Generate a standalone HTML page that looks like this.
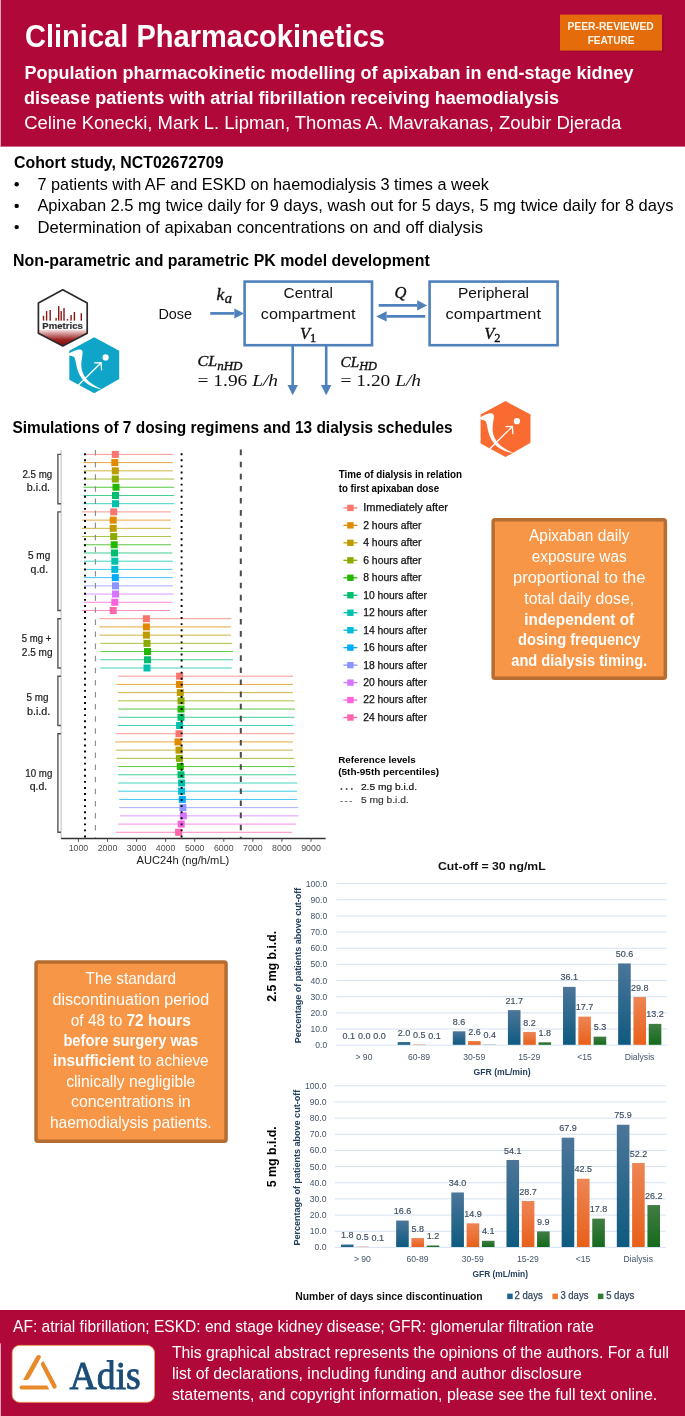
<!DOCTYPE html>
<html lang="en"><head><meta charset="utf-8"><title>Clinical Pharmacokinetics - graphical abstract</title>
<style>
html,body{margin:0;padding:0;background:#fff;}
body{width:685px;height:1416px;overflow:hidden;}
svg{display:block;font-family:"Liberation Sans",Arial,sans-serif;}
</style></head><body>
<svg width="685" height="1416" viewBox="0 0 685 1416">
<rect x="0.00" y="0.00" width="685.00" height="146.60" fill="#B1083A"/>
<rect x="0.00" y="0.00" width="1.00" height="146.60" fill="#E6A6B8"/>
<text x="25.00" y="46.70" font-size="31.8" fill="#fff" font-weight="bold" textLength="360.00" lengthAdjust="spacingAndGlyphs">Clinical Pharmacokinetics</text>
<rect x="561.50" y="16.00" width="102.00" height="36.00" fill="#7a0a25" opacity="0.35"/>
<rect x="560.00" y="14.60" width="102.00" height="36.00" fill="#E46C0A"/>
<text x="610.60" y="29.50" font-size="10.3" fill="#FFF5EA" font-weight="bold" text-anchor="middle" textLength="86.20" lengthAdjust="spacingAndGlyphs">PEER-REVIEWED</text>
<text x="611.10" y="43.50" font-size="10.3" fill="#FFF5EA" font-weight="bold" text-anchor="middle" textLength="46.90" lengthAdjust="spacingAndGlyphs">FEATURE</text>
<text x="24.50" y="79.30" font-size="19.2" fill="#fff" font-weight="bold" textLength="609.00" lengthAdjust="spacingAndGlyphs">Population pharmacokinetic modelling of apixaban in end-stage kidney</text>
<text x="24.00" y="103.80" font-size="19.2" fill="#fff" font-weight="bold" textLength="535.00" lengthAdjust="spacingAndGlyphs">disease patients with atrial fibrillation receiving haemodialysis</text>
<text x="24.20" y="128.60" font-size="18.9" fill="#fff" textLength="597.00" lengthAdjust="spacingAndGlyphs">Celine Konecki, Mark L. Lipman, Thomas A. Mavrakanas, Zoubir Djerada</text>
<text x="14.00" y="167.80" font-size="16.9" fill="#000" font-weight="bold" textLength="209.50" lengthAdjust="spacingAndGlyphs">Cohort study, NCT02672709</text>
<circle cx="16.7" cy="184.30" r="2.2" fill="#000"/>
<text x="37.40" y="189.70" font-size="16.6" fill="#000" textLength="451.50" lengthAdjust="spacingAndGlyphs">7 patients with AF and ESKD on haemodialysis 3 times a week</text>
<circle cx="16.7" cy="205.90" r="2.2" fill="#000"/>
<text x="37.40" y="211.30" font-size="16.6" fill="#000" textLength="636.00" lengthAdjust="spacingAndGlyphs">Apixaban 2.5 mg twice daily for 9 days, wash out for 5 days, 5 mg twice daily for 8 days</text>
<circle cx="16.7" cy="227.10" r="2.2" fill="#000"/>
<text x="37.40" y="232.50" font-size="16.6" fill="#000" textLength="445.60" lengthAdjust="spacingAndGlyphs">Determination of apixaban concentrations on and off dialysis</text>
<text x="13.00" y="265.50" font-size="16.8" fill="#000" font-weight="bold" textLength="416.70" lengthAdjust="spacingAndGlyphs">Non-parametric and parametric PK model development</text>
<rect x="244.6" y="281.6" width="127.4" height="63.6" fill="none" stroke="#4F81BD" stroke-width="2.6"/>
<rect x="429.6" y="281.6" width="128" height="63.6" fill="none" stroke="#4F81BD" stroke-width="2.6"/>
<line x1="210.20" y1="313.40" x2="234.40" y2="313.40" stroke="#4F81BD" stroke-width="2.7"/>
<polygon points="234.40,308.40 244.00,313.40 234.40,318.40" fill="#4F81BD"/>
<line x1="378.70" y1="305.40" x2="417.20" y2="305.40" stroke="#4F81BD" stroke-width="2.7"/>
<polygon points="417.20,300.30 427.20,305.40 417.20,310.50" fill="#4F81BD"/>
<line x1="425.20" y1="316.40" x2="386.60" y2="316.40" stroke="#4F81BD" stroke-width="2.7"/>
<polygon points="386.60,311.30 376.20,316.40 386.60,321.50" fill="#4F81BD"/>
<line x1="292.70" y1="345.50" x2="292.70" y2="385.10" stroke="#4F81BD" stroke-width="2.6"/>
<polygon points="287.50,385.10 292.70,395.20 297.90,385.10" fill="#4F81BD"/>
<line x1="326.20" y1="345.50" x2="326.20" y2="385.10" stroke="#4F81BD" stroke-width="2.6"/>
<polygon points="321.00,385.10 326.20,395.20 331.40,385.10" fill="#4F81BD"/>
<text x="158.40" y="318.60" font-size="15.5" fill="#111" textLength="33.60" lengthAdjust="spacingAndGlyphs">Dose</text>
<text x="308.30" y="297.80" font-size="15.5" fill="#111" text-anchor="middle" textLength="49.40" lengthAdjust="spacingAndGlyphs">Central</text>
<text x="308.20" y="318.70" font-size="15.5" fill="#111" text-anchor="middle" textLength="94.70" lengthAdjust="spacingAndGlyphs">compartment</text>
<text x="493.50" y="298.10" font-size="15.5" fill="#111" text-anchor="middle" textLength="71.10" lengthAdjust="spacingAndGlyphs">Peripheral</text>
<text x="493.30" y="318.50" font-size="15.5" fill="#111" text-anchor="middle" textLength="95.40" lengthAdjust="spacingAndGlyphs">compartment</text>
<text x="216.4" y="300" font-family="&quot;Liberation Serif&quot;, &quot;Times New Roman&quot;, serif" font-style="italic" font-size="17.5" fill="#111" stroke="#111" stroke-width="0.35">k<tspan font-size="14.5" dy="3.2" dx="0.6">a</tspan></text>
<text x="394.6" y="297.8" font-family="&quot;Liberation Serif&quot;, &quot;Times New Roman&quot;, serif" font-style="italic" font-size="16.5" fill="#111" stroke="#111" stroke-width="0.35">Q</text>
<text x="300" y="338.8" font-family="&quot;Liberation Serif&quot;, &quot;Times New Roman&quot;, serif" font-style="italic" font-size="16.5" fill="#111" stroke="#111" stroke-width="0.35">V<tspan font-style="normal" font-size="12.5" dy="3">1</tspan></text>
<text x="484.2" y="339" font-family="&quot;Liberation Serif&quot;, &quot;Times New Roman&quot;, serif" font-style="italic" font-size="16.5" fill="#111" stroke="#111" stroke-width="0.35">V<tspan font-style="normal" font-size="12.5" dy="3">2</tspan></text>
<text x="197.5" y="366.4" font-family="&quot;Liberation Serif&quot;, &quot;Times New Roman&quot;, serif" font-style="italic" font-size="15.6" fill="#111" stroke="#111" stroke-width="0.35" textLength="45" lengthAdjust="spacingAndGlyphs">CL<tspan font-size="12.6" dy="3.3">nHD</tspan></text>
<text x="197.5" y="385.8" font-family="&quot;Liberation Serif&quot;, &quot;Times New Roman&quot;, serif" font-size="16.2" fill="#111" textLength="80.6" lengthAdjust="spacingAndGlyphs">= 1.96 <tspan font-style="italic">L/h</tspan></text>
<text x="340.5" y="366.6" font-family="&quot;Liberation Serif&quot;, &quot;Times New Roman&quot;, serif" font-style="italic" font-size="15.6" fill="#111" stroke="#111" stroke-width="0.35" textLength="36.4" lengthAdjust="spacingAndGlyphs">CL<tspan font-size="12.6" dy="3.3">HD</tspan></text>
<text x="340.5" y="386.2" font-family="&quot;Liberation Serif&quot;, &quot;Times New Roman&quot;, serif" font-size="16.2" fill="#111" textLength="80.6" lengthAdjust="spacingAndGlyphs">= 1.20 <tspan font-style="italic">L/h</tspan></text>
<defs>
<linearGradient id="pmg" x1="0" y1="0" x2="0" y2="1">
<stop offset="0" stop-color="#f7e6e6"/><stop offset="0.25" stop-color="#cf8a8a"/><stop offset="0.55" stop-color="#a02424"/><stop offset="1" stop-color="#780404"/>
</linearGradient>
<linearGradient id="bb" x1="0" y1="0" x2="0" y2="1"><stop offset="0" stop-color="#4C7699"/><stop offset="1" stop-color="#0E5A80"/></linearGradient>
<linearGradient id="bo" x1="0" y1="0" x2="0" y2="1"><stop offset="0" stop-color="#EE8555"/><stop offset="1" stop-color="#E8601A"/></linearGradient>
<linearGradient id="bg" x1="0" y1="0" x2="0" y2="1"><stop offset="0" stop-color="#427D44"/><stop offset="1" stop-color="#146A1C"/></linearGradient>
<clipPath id="pmclip"><polygon points="62.8,289.8 87.2,303 87.2,333.2 62.8,346 38.4,333.2 38.4,303"/></clipPath>
</defs>
<polygon points="62.8,289.8 87.2,303 87.2,333.2 62.8,346 38.4,333.2 38.4,303" fill="#fff"/>
<rect x="36" y="329.6" width="54" height="18" fill="url(#pmg)" clip-path="url(#pmclip)"/>
<rect x="42.80" y="315.80" width="1.40" height="4.80" fill="#8a1414"/>
<rect x="45.90" y="311.10" width="1.40" height="9.50" fill="#8a1414"/>
<rect x="49.50" y="310.00" width="1.40" height="10.60" fill="#8a1414"/>
<rect x="55.40" y="317.90" width="1.40" height="2.70" fill="#8a1414"/>
<rect x="58.00" y="306.10" width="1.40" height="14.50" fill="#8a1414"/>
<rect x="60.50" y="311.10" width="1.40" height="9.50" fill="#8a1414"/>
<rect x="63.30" y="308.10" width="1.40" height="12.50" fill="#8a1414"/>
<rect x="66.80" y="319.10" width="1.40" height="1.50" fill="#8a1414"/>
<rect x="70.40" y="315.00" width="1.40" height="5.60" fill="#8a1414"/>
<rect x="73.70" y="312.00" width="1.40" height="8.60" fill="#8a1414"/>
<rect x="80.60" y="313.20" width="1.40" height="7.40" fill="#8a1414"/>
<text x="62.60" y="328.60" font-size="9.2" fill="#333" font-weight="bold" text-anchor="middle" textLength="40.60" lengthAdjust="spacingAndGlyphs" stroke="#333" stroke-width="0.2">Pmetrics</text>
<polygon points="62.8,289.8 87.2,303 87.2,333.2 62.8,346 38.4,333.2 38.4,303" fill="none" stroke="#2a2a2a" stroke-width="1.7" stroke-linejoin="round"/>
<g transform="translate(64.00,332.00)"><polygon points="30.2,5.3 55.2,18.8 55.2,47 30.2,61.3 5.3,47.7 5.3,18.8" fill="#0EA5C9"/><path d="M4.9,21.6 C8.5,19.2 13,17.4 16.2,17.5 C17.8,17.6 18.8,19 18.6,21.5 C18.3,25 17.2,29 17.3,33.5 C17.5,40 20.5,45.5 25.5,50 C29,53 33.5,55.2 37.9,57.2 C33.5,56.8 28,55 23.5,52 C18.5,48.6 15,43 13.3,37 C12.2,33 11.6,28.5 10.8,26.2 C10.3,24.6 7.5,23.8 4.9,23.6 Z" fill="#fff"/><line x1="14.5" y1="53" x2="36.6" y2="31.2" stroke="#fff" stroke-width="1.3"/><polyline points="30.2,30.8 37.1,30.6 37.6,38.4" fill="none" stroke="#fff" stroke-width="1.3"/><circle cx="41.6" cy="25.4" r="3.1" fill="#fff"/></g>
<g transform="translate(475.30,395.80)"><polygon points="30.2,5.3 55.2,18.8 55.2,47 30.2,61.3 5.3,47.7 5.3,18.8" fill="#F96B31"/><path d="M4.9,21.6 C8.5,19.2 13,17.4 16.2,17.5 C17.8,17.6 18.8,19 18.6,21.5 C18.3,25 17.2,29 17.3,33.5 C17.5,40 20.5,45.5 25.5,50 C29,53 33.5,55.2 37.9,57.2 C33.5,56.8 28,55 23.5,52 C18.5,48.6 15,43 13.3,37 C12.2,33 11.6,28.5 10.8,26.2 C10.3,24.6 7.5,23.8 4.9,23.6 Z" fill="#fff"/><line x1="14.5" y1="53" x2="36.6" y2="31.2" stroke="#fff" stroke-width="1.3"/><polyline points="30.2,30.8 37.1,30.6 37.6,38.4" fill="none" stroke="#fff" stroke-width="1.3"/><circle cx="41.6" cy="25.4" r="3.1" fill="#fff"/></g>
<text x="12.40" y="433.00" font-size="16.9" fill="#000" font-weight="bold" textLength="440.30" lengthAdjust="spacingAndGlyphs">Simulations of 7 dosing regimens and 13 dialysis schedules</text>
<line x1="61.10" y1="450.00" x2="61.10" y2="838.50" stroke="#BDBDBD" stroke-width="1"/>
<line x1="85.60" y1="454.40" x2="172.80" y2="454.40" stroke="#F8766D" stroke-width="1.0" opacity="0.75"/>
<line x1="83.50" y1="462.61" x2="172.80" y2="462.61" stroke="#E18A00" stroke-width="1.0" opacity="0.75"/>
<line x1="83.50" y1="470.83" x2="172.80" y2="470.83" stroke="#BE9C00" stroke-width="1.0" opacity="0.75"/>
<line x1="83.50" y1="479.04" x2="174.00" y2="479.04" stroke="#8CAB00" stroke-width="1.0" opacity="0.75"/>
<line x1="83.50" y1="487.26" x2="174.00" y2="487.26" stroke="#24B700" stroke-width="1.0" opacity="0.75"/>
<line x1="83.50" y1="495.47" x2="174.00" y2="495.47" stroke="#00BE70" stroke-width="1.0" opacity="0.75"/>
<line x1="83.50" y1="503.69" x2="174.00" y2="503.69" stroke="#00C1AB" stroke-width="1.0" opacity="0.75"/>
<line x1="82.00" y1="511.90" x2="171.00" y2="511.90" stroke="#F8766D" stroke-width="1.0" opacity="0.75"/>
<line x1="82.00" y1="520.12" x2="171.00" y2="520.12" stroke="#E18A00" stroke-width="1.0" opacity="0.75"/>
<line x1="82.00" y1="528.34" x2="171.00" y2="528.34" stroke="#BE9C00" stroke-width="1.0" opacity="0.75"/>
<line x1="82.00" y1="536.55" x2="171.00" y2="536.55" stroke="#8CAB00" stroke-width="1.0" opacity="0.75"/>
<line x1="83.50" y1="544.76" x2="171.00" y2="544.76" stroke="#24B700" stroke-width="1.0" opacity="0.75"/>
<line x1="84.00" y1="552.98" x2="172.30" y2="552.98" stroke="#00BE70" stroke-width="1.0" opacity="0.75"/>
<line x1="84.00" y1="561.19" x2="172.80" y2="561.19" stroke="#00C1AB" stroke-width="1.0" opacity="0.75"/>
<line x1="85.50" y1="569.41" x2="172.30" y2="569.41" stroke="#00BBDA" stroke-width="1.0" opacity="0.75"/>
<line x1="84.00" y1="577.62" x2="172.80" y2="577.62" stroke="#00ACFC" stroke-width="1.0" opacity="0.75"/>
<line x1="84.00" y1="585.84" x2="172.80" y2="585.84" stroke="#8B93FF" stroke-width="1.0" opacity="0.75"/>
<line x1="84.00" y1="594.05" x2="173.80" y2="594.05" stroke="#D575FE" stroke-width="1.0" opacity="0.75"/>
<line x1="84.00" y1="602.27" x2="172.30" y2="602.27" stroke="#F962DD" stroke-width="1.0" opacity="0.75"/>
<line x1="82.00" y1="610.49" x2="170.00" y2="610.49" stroke="#FF65AC" stroke-width="1.0" opacity="0.75"/>
<line x1="99.40" y1="618.70" x2="231.40" y2="618.70" stroke="#F8766D" stroke-width="1.0" opacity="0.75"/>
<line x1="99.40" y1="626.91" x2="231.00" y2="626.91" stroke="#E18A00" stroke-width="1.0" opacity="0.75"/>
<line x1="99.40" y1="635.13" x2="231.00" y2="635.13" stroke="#BE9C00" stroke-width="1.0" opacity="0.75"/>
<line x1="100.30" y1="643.35" x2="232.00" y2="643.35" stroke="#8CAB00" stroke-width="1.0" opacity="0.75"/>
<line x1="100.40" y1="651.56" x2="233.00" y2="651.56" stroke="#24B700" stroke-width="1.0" opacity="0.75"/>
<line x1="100.40" y1="659.77" x2="233.00" y2="659.77" stroke="#00BE70" stroke-width="1.0" opacity="0.75"/>
<line x1="100.40" y1="667.99" x2="231.80" y2="667.99" stroke="#00C1AB" stroke-width="1.0" opacity="0.75"/>
<line x1="118.10" y1="676.20" x2="292.90" y2="676.20" stroke="#F8766D" stroke-width="1.0" opacity="0.75"/>
<line x1="116.60" y1="684.42" x2="292.90" y2="684.42" stroke="#E18A00" stroke-width="1.0" opacity="0.75"/>
<line x1="118.00" y1="692.63" x2="292.90" y2="692.63" stroke="#BE9C00" stroke-width="1.0" opacity="0.75"/>
<line x1="118.00" y1="700.85" x2="294.60" y2="700.85" stroke="#8CAB00" stroke-width="1.0" opacity="0.75"/>
<line x1="118.10" y1="709.06" x2="294.90" y2="709.06" stroke="#24B700" stroke-width="1.0" opacity="0.75"/>
<line x1="118.00" y1="717.28" x2="294.60" y2="717.28" stroke="#00BE70" stroke-width="1.0" opacity="0.75"/>
<line x1="118.00" y1="725.49" x2="292.90" y2="725.49" stroke="#00C1AB" stroke-width="1.0" opacity="0.75"/>
<line x1="115.90" y1="733.71" x2="294.50" y2="733.71" stroke="#F8766D" stroke-width="1.0" opacity="0.75"/>
<line x1="115.30" y1="741.92" x2="292.80" y2="741.92" stroke="#E18A00" stroke-width="1.0" opacity="0.75"/>
<line x1="116.00" y1="750.14" x2="292.80" y2="750.14" stroke="#BE9C00" stroke-width="1.0" opacity="0.75"/>
<line x1="116.60" y1="758.36" x2="294.50" y2="758.36" stroke="#8CAB00" stroke-width="1.0" opacity="0.75"/>
<line x1="118.00" y1="766.57" x2="295.00" y2="766.57" stroke="#24B700" stroke-width="1.0" opacity="0.75"/>
<line x1="118.00" y1="774.78" x2="296.00" y2="774.78" stroke="#00BE70" stroke-width="1.0" opacity="0.75"/>
<line x1="118.00" y1="783.00" x2="297.20" y2="783.00" stroke="#00C1AB" stroke-width="1.0" opacity="0.75"/>
<line x1="118.00" y1="791.21" x2="297.00" y2="791.21" stroke="#00BBDA" stroke-width="1.0" opacity="0.75"/>
<line x1="119.20" y1="799.43" x2="297.20" y2="799.43" stroke="#00ACFC" stroke-width="1.0" opacity="0.75"/>
<line x1="119.20" y1="807.64" x2="298.30" y2="807.64" stroke="#8B93FF" stroke-width="1.0" opacity="0.75"/>
<line x1="120.00" y1="815.86" x2="298.30" y2="815.86" stroke="#D575FE" stroke-width="1.0" opacity="0.75"/>
<line x1="118.00" y1="824.08" x2="296.00" y2="824.08" stroke="#F962DD" stroke-width="1.0" opacity="0.75"/>
<line x1="116.00" y1="832.29" x2="292.00" y2="832.29" stroke="#FF65AC" stroke-width="1.0" opacity="0.75"/>
<rect x="111.80" y="450.90" width="7.00" height="7.00" fill="#F8766D"/>
<rect x="111.30" y="459.11" width="7.00" height="7.00" fill="#E18A00"/>
<rect x="111.80" y="467.33" width="7.00" height="7.00" fill="#BE9C00"/>
<rect x="111.80" y="475.54" width="7.00" height="7.00" fill="#8CAB00"/>
<rect x="112.50" y="483.76" width="7.00" height="7.00" fill="#24B700"/>
<rect x="112.00" y="491.97" width="7.00" height="7.00" fill="#00BE70"/>
<rect x="112.00" y="500.19" width="7.00" height="7.00" fill="#00C1AB"/>
<rect x="110.20" y="508.40" width="7.00" height="7.00" fill="#F8766D"/>
<rect x="109.70" y="516.62" width="7.00" height="7.00" fill="#E18A00"/>
<rect x="109.70" y="524.84" width="7.00" height="7.00" fill="#BE9C00"/>
<rect x="110.20" y="533.05" width="7.00" height="7.00" fill="#8CAB00"/>
<rect x="110.70" y="541.26" width="7.00" height="7.00" fill="#24B700"/>
<rect x="111.00" y="549.48" width="7.00" height="7.00" fill="#00BE70"/>
<rect x="111.30" y="557.69" width="7.00" height="7.00" fill="#00C1AB"/>
<rect x="111.30" y="565.91" width="7.00" height="7.00" fill="#00BBDA"/>
<rect x="111.80" y="574.12" width="7.00" height="7.00" fill="#00ACFC"/>
<rect x="112.00" y="582.34" width="7.00" height="7.00" fill="#8B93FF"/>
<rect x="112.00" y="590.55" width="7.00" height="7.00" fill="#D575FE"/>
<rect x="111.30" y="598.77" width="7.00" height="7.00" fill="#F962DD"/>
<rect x="109.70" y="606.99" width="7.00" height="7.00" fill="#FF65AC"/>
<rect x="142.90" y="615.20" width="7.00" height="7.00" fill="#F8766D"/>
<rect x="142.90" y="623.41" width="7.00" height="7.00" fill="#E18A00"/>
<rect x="142.90" y="631.63" width="7.00" height="7.00" fill="#BE9C00"/>
<rect x="143.50" y="639.85" width="7.00" height="7.00" fill="#8CAB00"/>
<rect x="144.00" y="648.06" width="7.00" height="7.00" fill="#24B700"/>
<rect x="144.00" y="656.27" width="7.00" height="7.00" fill="#00BE70"/>
<rect x="143.50" y="664.49" width="7.00" height="7.00" fill="#00C1AB"/>
<rect x="176.10" y="672.70" width="7.00" height="7.00" fill="#F8766D"/>
<rect x="175.90" y="680.92" width="7.00" height="7.00" fill="#E18A00"/>
<rect x="176.80" y="689.13" width="7.00" height="7.00" fill="#BE9C00"/>
<rect x="177.50" y="697.35" width="7.00" height="7.00" fill="#8CAB00"/>
<rect x="177.50" y="705.56" width="7.00" height="7.00" fill="#24B700"/>
<rect x="177.50" y="713.78" width="7.00" height="7.00" fill="#00BE70"/>
<rect x="176.10" y="721.99" width="7.00" height="7.00" fill="#00C1AB"/>
<rect x="175.50" y="730.21" width="7.00" height="7.00" fill="#F8766D"/>
<rect x="174.50" y="738.42" width="7.00" height="7.00" fill="#E18A00"/>
<rect x="175.50" y="746.64" width="7.00" height="7.00" fill="#BE9C00"/>
<rect x="175.90" y="754.86" width="7.00" height="7.00" fill="#8CAB00"/>
<rect x="176.80" y="763.07" width="7.00" height="7.00" fill="#24B700"/>
<rect x="177.50" y="771.28" width="7.00" height="7.00" fill="#00BE70"/>
<rect x="178.10" y="779.50" width="7.00" height="7.00" fill="#00C1AB"/>
<rect x="178.10" y="787.71" width="7.00" height="7.00" fill="#00BBDA"/>
<rect x="178.80" y="795.93" width="7.00" height="7.00" fill="#00ACFC"/>
<rect x="179.40" y="804.14" width="7.00" height="7.00" fill="#8B93FF"/>
<rect x="179.80" y="812.36" width="7.00" height="7.00" fill="#D575FE"/>
<rect x="177.70" y="820.58" width="7.00" height="7.00" fill="#F962DD"/>
<rect x="175.10" y="828.79" width="7.00" height="7.00" fill="#FF65AC"/>
<line x1="85.00" y1="453.30" x2="85.00" y2="838.00" stroke="#000" stroke-width="1.9" stroke-dasharray="1.9 4.167"/>
<line x1="181.60" y1="453.30" x2="181.60" y2="838.00" stroke="#000" stroke-width="1.9" stroke-dasharray="1.9 4.167"/>
<line x1="95.40" y1="450.00" x2="95.40" y2="838.00" stroke="#8a8a8a" stroke-width="1.1" stroke-dasharray="5.5 6.6"/>
<line x1="240.80" y1="449.60" x2="240.80" y2="838.00" stroke="#4a4a4a" stroke-width="2.0" stroke-dasharray="5.6 6.5"/>
<line x1="61.10" y1="838.50" x2="325.60" y2="838.50" stroke="#333" stroke-width="1.4"/>
<line x1="78.43" y1="838.50" x2="78.43" y2="841.80" stroke="#555" stroke-width="1"/>
<text x="78.43" y="850.70" font-size="9.2" fill="#4D4D4D" text-anchor="middle" textLength="19.60" lengthAdjust="spacingAndGlyphs">1000</text>
<line x1="107.50" y1="838.50" x2="107.50" y2="841.80" stroke="#555" stroke-width="1"/>
<text x="107.50" y="850.70" font-size="9.2" fill="#4D4D4D" text-anchor="middle" textLength="19.60" lengthAdjust="spacingAndGlyphs">2000</text>
<line x1="136.57" y1="838.50" x2="136.57" y2="841.80" stroke="#555" stroke-width="1"/>
<text x="136.57" y="850.70" font-size="9.2" fill="#4D4D4D" text-anchor="middle" textLength="19.60" lengthAdjust="spacingAndGlyphs">3000</text>
<line x1="165.64" y1="838.50" x2="165.64" y2="841.80" stroke="#555" stroke-width="1"/>
<text x="165.64" y="850.70" font-size="9.2" fill="#4D4D4D" text-anchor="middle" textLength="19.60" lengthAdjust="spacingAndGlyphs">4000</text>
<line x1="194.71" y1="838.50" x2="194.71" y2="841.80" stroke="#555" stroke-width="1"/>
<text x="194.71" y="850.70" font-size="9.2" fill="#4D4D4D" text-anchor="middle" textLength="19.60" lengthAdjust="spacingAndGlyphs">5000</text>
<line x1="223.78" y1="838.50" x2="223.78" y2="841.80" stroke="#555" stroke-width="1"/>
<text x="223.78" y="850.70" font-size="9.2" fill="#4D4D4D" text-anchor="middle" textLength="19.60" lengthAdjust="spacingAndGlyphs">6000</text>
<line x1="252.85" y1="838.50" x2="252.85" y2="841.80" stroke="#555" stroke-width="1"/>
<text x="252.85" y="850.70" font-size="9.2" fill="#4D4D4D" text-anchor="middle" textLength="19.60" lengthAdjust="spacingAndGlyphs">7000</text>
<line x1="281.92" y1="838.50" x2="281.92" y2="841.80" stroke="#555" stroke-width="1"/>
<text x="281.92" y="850.70" font-size="9.2" fill="#4D4D4D" text-anchor="middle" textLength="19.60" lengthAdjust="spacingAndGlyphs">8000</text>
<line x1="310.99" y1="838.50" x2="310.99" y2="841.80" stroke="#555" stroke-width="1"/>
<text x="310.99" y="850.70" font-size="9.2" fill="#4D4D4D" text-anchor="middle" textLength="19.60" lengthAdjust="spacingAndGlyphs">9000</text>
<text x="136.50" y="864.20" font-size="10.6" fill="#1a1a1a" textLength="92.80" lengthAdjust="spacingAndGlyphs">AUC24h (ng/h/mL)</text>
<polyline points="61,454.40 57.9,454.40 57.9,503.69 61,503.69" fill="none" stroke="#555" stroke-width="1.4"/>
<polyline points="61,511.90 57.9,511.90 57.9,610.49 61,610.49" fill="none" stroke="#555" stroke-width="1.4"/>
<polyline points="61,618.70 57.9,618.70 57.9,667.99 61,667.99" fill="none" stroke="#555" stroke-width="1.4"/>
<polyline points="61,676.20 57.9,676.20 57.9,725.49 61,725.49" fill="none" stroke="#555" stroke-width="1.4"/>
<polyline points="61,733.71 57.9,733.71 57.9,832.29 61,832.29" fill="none" stroke="#555" stroke-width="1.4"/>
<text x="22.40" y="477.70" font-size="10.1" fill="#1a1a1a" textLength="29.90" lengthAdjust="spacingAndGlyphs" stroke="#1a1a1a" stroke-width="0.2">2.5 mg</text>
<text x="26.80" y="491.40" font-size="10.1" fill="#1a1a1a" textLength="23.30" lengthAdjust="spacingAndGlyphs" stroke="#1a1a1a" stroke-width="0.2">b.i.d.</text>
<text x="28.00" y="558.70" font-size="10.1" fill="#1a1a1a" textLength="22.30" lengthAdjust="spacingAndGlyphs" stroke="#1a1a1a" stroke-width="0.2">5 mg</text>
<text x="30.60" y="572.50" font-size="10.1" fill="#1a1a1a" textLength="17.50" lengthAdjust="spacingAndGlyphs" stroke="#1a1a1a" stroke-width="0.2">q.d.</text>
<text x="21.80" y="641.50" font-size="10.1" fill="#1a1a1a" textLength="29.40" lengthAdjust="spacingAndGlyphs" stroke="#1a1a1a" stroke-width="0.2">5 mg +</text>
<text x="21.80" y="655.50" font-size="10.1" fill="#1a1a1a" textLength="30.70" lengthAdjust="spacingAndGlyphs" stroke="#1a1a1a" stroke-width="0.2">2.5 mg</text>
<text x="26.60" y="700.60" font-size="10.1" fill="#1a1a1a" textLength="21.90" lengthAdjust="spacingAndGlyphs" stroke="#1a1a1a" stroke-width="0.2">5 mg</text>
<text x="27.00" y="714.60" font-size="10.1" fill="#1a1a1a" textLength="23.30" lengthAdjust="spacingAndGlyphs" stroke="#1a1a1a" stroke-width="0.2">b.i.d.</text>
<text x="25.30" y="776.50" font-size="10.1" fill="#1a1a1a" textLength="27.00" lengthAdjust="spacingAndGlyphs" stroke="#1a1a1a" stroke-width="0.2">10 mg</text>
<text x="29.70" y="790.40" font-size="10.1" fill="#1a1a1a" textLength="17.50" lengthAdjust="spacingAndGlyphs" stroke="#1a1a1a" stroke-width="0.2">q.d.</text>
<text x="338.70" y="478.20" font-size="10.5" fill="#000" font-weight="bold" textLength="123.30" lengthAdjust="spacingAndGlyphs">Time of dialysis in relation</text>
<text x="338.70" y="491.50" font-size="10.5" fill="#000" font-weight="bold" textLength="100.40" lengthAdjust="spacingAndGlyphs">to first apixaban dose</text>
<line x1="343.40" y1="507.90" x2="357.40" y2="507.90" stroke="#F8766D" stroke-width="1.3"/>
<rect x="347.20" y="504.70" width="6.40" height="6.40" fill="#F8766D"/>
<text x="363.20" y="511.30" font-size="10.1" fill="#111" textLength="84.80" lengthAdjust="spacingAndGlyphs" stroke="#111" stroke-width="0.25">Immediately after</text>
<line x1="343.40" y1="525.37" x2="357.40" y2="525.37" stroke="#E18A00" stroke-width="1.3"/>
<rect x="347.20" y="522.17" width="6.40" height="6.40" fill="#E18A00"/>
<text x="363.20" y="528.77" font-size="10.1" fill="#111" textLength="58.40" lengthAdjust="spacingAndGlyphs" stroke="#111" stroke-width="0.25">2 hours after</text>
<line x1="343.40" y1="542.84" x2="357.40" y2="542.84" stroke="#BE9C00" stroke-width="1.3"/>
<rect x="347.20" y="539.64" width="6.40" height="6.40" fill="#BE9C00"/>
<text x="363.20" y="546.24" font-size="10.1" fill="#111" textLength="58.40" lengthAdjust="spacingAndGlyphs" stroke="#111" stroke-width="0.25">4 hours after</text>
<line x1="343.40" y1="560.31" x2="357.40" y2="560.31" stroke="#8CAB00" stroke-width="1.3"/>
<rect x="347.20" y="557.11" width="6.40" height="6.40" fill="#8CAB00"/>
<text x="363.20" y="563.71" font-size="10.1" fill="#111" textLength="58.40" lengthAdjust="spacingAndGlyphs" stroke="#111" stroke-width="0.25">6 hours after</text>
<line x1="343.40" y1="577.78" x2="357.40" y2="577.78" stroke="#24B700" stroke-width="1.3"/>
<rect x="347.20" y="574.58" width="6.40" height="6.40" fill="#24B700"/>
<text x="363.20" y="581.18" font-size="10.1" fill="#111" textLength="58.40" lengthAdjust="spacingAndGlyphs" stroke="#111" stroke-width="0.25">8 hours after</text>
<line x1="343.40" y1="595.25" x2="357.40" y2="595.25" stroke="#00BE70" stroke-width="1.3"/>
<rect x="347.20" y="592.05" width="6.40" height="6.40" fill="#00BE70"/>
<text x="363.20" y="598.65" font-size="10.1" fill="#111" textLength="63.80" lengthAdjust="spacingAndGlyphs" stroke="#111" stroke-width="0.25">10 hours after</text>
<line x1="343.40" y1="612.72" x2="357.40" y2="612.72" stroke="#00C1AB" stroke-width="1.3"/>
<rect x="347.20" y="609.52" width="6.40" height="6.40" fill="#00C1AB"/>
<text x="363.20" y="616.12" font-size="10.1" fill="#111" textLength="63.80" lengthAdjust="spacingAndGlyphs" stroke="#111" stroke-width="0.25">12 hours after</text>
<line x1="343.40" y1="630.19" x2="357.40" y2="630.19" stroke="#00BBDA" stroke-width="1.3"/>
<rect x="347.20" y="626.99" width="6.40" height="6.40" fill="#00BBDA"/>
<text x="363.20" y="633.59" font-size="10.1" fill="#111" textLength="63.80" lengthAdjust="spacingAndGlyphs" stroke="#111" stroke-width="0.25">14 hours after</text>
<line x1="343.40" y1="647.66" x2="357.40" y2="647.66" stroke="#00ACFC" stroke-width="1.3"/>
<rect x="347.20" y="644.46" width="6.40" height="6.40" fill="#00ACFC"/>
<text x="363.20" y="651.06" font-size="10.1" fill="#111" textLength="63.80" lengthAdjust="spacingAndGlyphs" stroke="#111" stroke-width="0.25">16 hours after</text>
<line x1="343.40" y1="665.13" x2="357.40" y2="665.13" stroke="#8B93FF" stroke-width="1.3"/>
<rect x="347.20" y="661.93" width="6.40" height="6.40" fill="#8B93FF"/>
<text x="363.20" y="668.53" font-size="10.1" fill="#111" textLength="63.80" lengthAdjust="spacingAndGlyphs" stroke="#111" stroke-width="0.25">18 hours after</text>
<line x1="343.40" y1="682.60" x2="357.40" y2="682.60" stroke="#D575FE" stroke-width="1.3"/>
<rect x="347.20" y="679.40" width="6.40" height="6.40" fill="#D575FE"/>
<text x="363.20" y="686.00" font-size="10.1" fill="#111" textLength="63.80" lengthAdjust="spacingAndGlyphs" stroke="#111" stroke-width="0.25">20 hours after</text>
<line x1="343.40" y1="700.07" x2="357.40" y2="700.07" stroke="#F962DD" stroke-width="1.3"/>
<rect x="347.20" y="696.87" width="6.40" height="6.40" fill="#F962DD"/>
<text x="363.20" y="703.47" font-size="10.1" fill="#111" textLength="63.80" lengthAdjust="spacingAndGlyphs" stroke="#111" stroke-width="0.25">22 hours after</text>
<line x1="343.40" y1="717.54" x2="357.40" y2="717.54" stroke="#FF65AC" stroke-width="1.3"/>
<rect x="347.20" y="714.34" width="6.40" height="6.40" fill="#FF65AC"/>
<text x="363.20" y="720.94" font-size="10.1" fill="#111" textLength="63.80" lengthAdjust="spacingAndGlyphs" stroke="#111" stroke-width="0.25">24 hours after</text>
<text x="338.20" y="763.40" font-size="9.4" fill="#000" font-weight="bold" textLength="77.60" lengthAdjust="spacingAndGlyphs">Reference levels</text>
<text x="338.20" y="774.60" font-size="9.4" fill="#000" font-weight="bold" textLength="100.90" lengthAdjust="spacingAndGlyphs">(5th-95th percentiles)</text>
<rect x="340.60" y="788.20" width="1.60" height="1.60" fill="#333"/>
<rect x="345.80" y="788.20" width="1.60" height="1.60" fill="#333"/>
<rect x="351.00" y="788.20" width="1.60" height="1.60" fill="#333"/>
<rect x="340.20" y="801.00" width="2.60" height="1.00" fill="#777"/>
<rect x="344.80" y="801.00" width="2.60" height="1.00" fill="#777"/>
<rect x="349.40" y="801.00" width="2.60" height="1.00" fill="#777"/>
<text x="360.90" y="789.80" font-size="9.8" fill="#111" textLength="56.10" lengthAdjust="spacingAndGlyphs" stroke="#111" stroke-width="0.2">2.5 mg b.i.d.</text>
<text x="360.90" y="803.10" font-size="9.8" fill="#333" textLength="47.90" lengthAdjust="spacingAndGlyphs" stroke="#333" stroke-width="0.15">5 mg b.i.d.</text>
<rect x="493.15" y="519.85" width="172.2" height="158.5" rx="1.8" fill="#F79646" stroke="#B66D31" stroke-width="3.5"/>
<text x="579.20" y="541.40" font-size="15.6" fill="#fff" text-anchor="middle" textLength="100.30" lengthAdjust="spacingAndGlyphs">Apixaban daily</text>
<text x="579.20" y="562.40" font-size="15.6" fill="#fff" text-anchor="middle" textLength="94.90" lengthAdjust="spacingAndGlyphs">exposure was</text>
<text x="579.20" y="583.30" font-size="15.6" fill="#fff" text-anchor="middle" textLength="132.30" lengthAdjust="spacingAndGlyphs">proportional to the</text>
<text x="579.20" y="603.70" font-size="15.6" fill="#fff" text-anchor="middle" textLength="109.80" lengthAdjust="spacingAndGlyphs">total daily dose,</text>
<text x="579.20" y="624.60" font-size="15.9" fill="#fff" font-weight="bold" text-anchor="middle" textLength="109.80" lengthAdjust="spacingAndGlyphs">independent of</text>
<text x="579.20" y="644.70" font-size="15.9" fill="#fff" font-weight="bold" text-anchor="middle" textLength="122.40" lengthAdjust="spacingAndGlyphs">dosing frequency</text>
<text x="579.20" y="665.60" font-size="15.9" fill="#fff" font-weight="bold" text-anchor="middle" textLength="135.90" lengthAdjust="spacingAndGlyphs">and dialysis timing.</text>
<text x="438.00" y="869.80" font-size="11.8" fill="#111" font-weight="bold" textLength="107.70" lengthAdjust="spacingAndGlyphs">Cut-off = 30 ng/mL</text>
<line x1="336.40" y1="1045.20" x2="667.10" y2="1045.20" stroke="#D6E2F2" stroke-width="1"/>
<text x="327.20" y="1048.20" font-size="8.6" fill="#44546A" text-anchor="end">0.0</text>
<line x1="336.40" y1="1029.04" x2="667.10" y2="1029.04" stroke="#D6E2F2" stroke-width="1"/>
<text x="327.20" y="1032.04" font-size="8.6" fill="#44546A" text-anchor="end">10.0</text>
<line x1="336.40" y1="1012.88" x2="667.10" y2="1012.88" stroke="#D6E2F2" stroke-width="1"/>
<text x="327.20" y="1015.88" font-size="8.6" fill="#44546A" text-anchor="end">20.0</text>
<line x1="336.40" y1="996.72" x2="667.10" y2="996.72" stroke="#D6E2F2" stroke-width="1"/>
<text x="327.20" y="999.72" font-size="8.6" fill="#44546A" text-anchor="end">30.0</text>
<line x1="336.40" y1="980.56" x2="667.10" y2="980.56" stroke="#D6E2F2" stroke-width="1"/>
<text x="327.20" y="983.56" font-size="8.6" fill="#44546A" text-anchor="end">40.0</text>
<line x1="336.40" y1="964.40" x2="667.10" y2="964.40" stroke="#D6E2F2" stroke-width="1"/>
<text x="327.20" y="967.40" font-size="8.6" fill="#44546A" text-anchor="end">50.0</text>
<line x1="336.40" y1="948.24" x2="667.10" y2="948.24" stroke="#D6E2F2" stroke-width="1"/>
<text x="327.20" y="951.24" font-size="8.6" fill="#44546A" text-anchor="end">60.0</text>
<line x1="336.40" y1="932.08" x2="667.10" y2="932.08" stroke="#D6E2F2" stroke-width="1"/>
<text x="327.20" y="935.08" font-size="8.6" fill="#44546A" text-anchor="end">70.0</text>
<line x1="336.40" y1="915.92" x2="667.10" y2="915.92" stroke="#D6E2F2" stroke-width="1"/>
<text x="327.20" y="918.92" font-size="8.6" fill="#44546A" text-anchor="end">80.0</text>
<line x1="336.40" y1="899.76" x2="667.10" y2="899.76" stroke="#D6E2F2" stroke-width="1"/>
<text x="327.20" y="902.76" font-size="8.6" fill="#44546A" text-anchor="end">90.0</text>
<line x1="336.40" y1="883.60" x2="667.10" y2="883.60" stroke="#D6E2F2" stroke-width="1"/>
<text x="327.20" y="886.60" font-size="8.6" fill="#44546A" text-anchor="end">100.0</text>
<text x="363.96" y="1059.70" font-size="8.6" fill="#44546A" text-anchor="middle">&gt; 90</text>
<rect x="342.56" y="1045.04" width="12.60" height="-0.24" fill="url(#bb)"/>
<text x="348.86" y="1038.64" font-size="9.0" fill="#3E4D61" text-anchor="middle" stroke="#3E4D61" stroke-width="0.15">0.1</text>
<text x="364.16" y="1038.80" font-size="9.0" fill="#3E4D61" text-anchor="middle" stroke="#3E4D61" stroke-width="0.15">0.0</text>
<text x="379.46" y="1038.80" font-size="9.0" fill="#3E4D61" text-anchor="middle" stroke="#3E4D61" stroke-width="0.15">0.0</text>
<text x="419.07" y="1059.70" font-size="8.6" fill="#44546A" text-anchor="middle">60-89</text>
<rect x="397.68" y="1041.97" width="12.60" height="2.83" fill="url(#bb)"/>
<text x="403.98" y="1035.57" font-size="9.0" fill="#3E4D61" text-anchor="middle" stroke="#3E4D61" stroke-width="0.15">2.0</text>
<rect x="412.98" y="1044.39" width="12.60" height="0.41" fill="url(#bo)"/>
<text x="419.28" y="1037.99" font-size="9.0" fill="#3E4D61" text-anchor="middle" stroke="#3E4D61" stroke-width="0.15">0.5</text>
<rect x="428.28" y="1045.04" width="12.60" height="-0.24" fill="url(#bg)"/>
<text x="434.58" y="1038.64" font-size="9.0" fill="#3E4D61" text-anchor="middle" stroke="#3E4D61" stroke-width="0.15">0.1</text>
<text x="474.19" y="1059.70" font-size="8.6" fill="#44546A" text-anchor="middle">30-59</text>
<rect x="452.79" y="1031.30" width="12.60" height="13.50" fill="url(#bb)"/>
<text x="459.09" y="1024.90" font-size="9.0" fill="#3E4D61" text-anchor="middle" stroke="#3E4D61" stroke-width="0.15">8.6</text>
<rect x="468.09" y="1041.00" width="12.60" height="3.80" fill="url(#bo)"/>
<text x="474.39" y="1034.60" font-size="9.0" fill="#3E4D61" text-anchor="middle" stroke="#3E4D61" stroke-width="0.15">2.6</text>
<rect x="483.39" y="1044.55" width="12.60" height="0.25" fill="url(#bg)"/>
<text x="489.69" y="1038.15" font-size="9.0" fill="#3E4D61" text-anchor="middle" stroke="#3E4D61" stroke-width="0.15">0.4</text>
<text x="529.31" y="1059.70" font-size="8.6" fill="#44546A" text-anchor="middle">15-29</text>
<rect x="507.91" y="1010.13" width="12.60" height="34.67" fill="url(#bb)"/>
<text x="514.21" y="1003.73" font-size="9.0" fill="#3E4D61" text-anchor="middle" stroke="#3E4D61" stroke-width="0.15">21.7</text>
<rect x="523.21" y="1031.95" width="12.60" height="12.85" fill="url(#bo)"/>
<text x="529.51" y="1025.55" font-size="9.0" fill="#3E4D61" text-anchor="middle" stroke="#3E4D61" stroke-width="0.15">8.2</text>
<rect x="538.51" y="1042.29" width="12.60" height="2.51" fill="url(#bg)"/>
<text x="544.81" y="1035.89" font-size="9.0" fill="#3E4D61" text-anchor="middle" stroke="#3E4D61" stroke-width="0.15">1.8</text>
<text x="584.42" y="1059.70" font-size="8.6" fill="#44546A" text-anchor="middle">&lt;15</text>
<rect x="563.02" y="986.86" width="12.60" height="57.94" fill="url(#bb)"/>
<text x="569.32" y="980.46" font-size="9.0" fill="#3E4D61" text-anchor="middle" stroke="#3E4D61" stroke-width="0.15">36.1</text>
<rect x="578.32" y="1016.60" width="12.60" height="28.20" fill="url(#bo)"/>
<text x="584.62" y="1010.20" font-size="9.0" fill="#3E4D61" text-anchor="middle" stroke="#3E4D61" stroke-width="0.15">17.7</text>
<rect x="593.62" y="1036.64" width="12.60" height="8.16" fill="url(#bg)"/>
<text x="599.92" y="1030.24" font-size="9.0" fill="#3E4D61" text-anchor="middle" stroke="#3E4D61" stroke-width="0.15">5.3</text>
<text x="639.54" y="1059.70" font-size="8.6" fill="#44546A" text-anchor="middle">Dialysis</text>
<rect x="618.14" y="963.43" width="12.60" height="81.37" fill="url(#bb)"/>
<text x="624.44" y="957.03" font-size="9.0" fill="#3E4D61" text-anchor="middle" stroke="#3E4D61" stroke-width="0.15">50.6</text>
<rect x="633.44" y="997.04" width="12.60" height="47.76" fill="url(#bo)"/>
<text x="639.74" y="990.64" font-size="9.0" fill="#3E4D61" text-anchor="middle" stroke="#3E4D61" stroke-width="0.15">29.8</text>
<rect x="648.74" y="1023.87" width="12.60" height="20.93" fill="url(#bg)"/>
<text x="655.04" y="1017.47" font-size="9.0" fill="#3E4D61" text-anchor="middle" stroke="#3E4D61" stroke-width="0.15">13.2</text>
<text x="473.50" y="1074.60" font-size="8.8" fill="#25405F" font-weight="bold" textLength="57.10" lengthAdjust="spacingAndGlyphs">GFR (mL/min)</text>
<text x="0" y="0" transform="translate(300.6,965.50) rotate(-90)" font-size="8.8" font-weight="bold" fill="#25405F" text-anchor="middle" textLength="155.7" lengthAdjust="spacingAndGlyphs">Percentage of patients above cut-off</text>
<line x1="334.80" y1="1247.40" x2="665.80" y2="1247.40" stroke="#D6E2F2" stroke-width="1"/>
<text x="326.50" y="1250.40" font-size="8.6" fill="#44546A" text-anchor="end">0.0</text>
<line x1="334.80" y1="1231.24" x2="665.80" y2="1231.24" stroke="#D6E2F2" stroke-width="1"/>
<text x="326.50" y="1234.24" font-size="8.6" fill="#44546A" text-anchor="end">10.0</text>
<line x1="334.80" y1="1215.08" x2="665.80" y2="1215.08" stroke="#D6E2F2" stroke-width="1"/>
<text x="326.50" y="1218.08" font-size="8.6" fill="#44546A" text-anchor="end">20.0</text>
<line x1="334.80" y1="1198.92" x2="665.80" y2="1198.92" stroke="#D6E2F2" stroke-width="1"/>
<text x="326.50" y="1201.92" font-size="8.6" fill="#44546A" text-anchor="end">30.0</text>
<line x1="334.80" y1="1182.76" x2="665.80" y2="1182.76" stroke="#D6E2F2" stroke-width="1"/>
<text x="326.50" y="1185.76" font-size="8.6" fill="#44546A" text-anchor="end">40.0</text>
<line x1="334.80" y1="1166.60" x2="665.80" y2="1166.60" stroke="#D6E2F2" stroke-width="1"/>
<text x="326.50" y="1169.60" font-size="8.6" fill="#44546A" text-anchor="end">50.0</text>
<line x1="334.80" y1="1150.44" x2="665.80" y2="1150.44" stroke="#D6E2F2" stroke-width="1"/>
<text x="326.50" y="1153.44" font-size="8.6" fill="#44546A" text-anchor="end">60.0</text>
<line x1="334.80" y1="1134.28" x2="665.80" y2="1134.28" stroke="#D6E2F2" stroke-width="1"/>
<text x="326.50" y="1137.28" font-size="8.6" fill="#44546A" text-anchor="end">70.0</text>
<line x1="334.80" y1="1118.12" x2="665.80" y2="1118.12" stroke="#D6E2F2" stroke-width="1"/>
<text x="326.50" y="1121.12" font-size="8.6" fill="#44546A" text-anchor="end">80.0</text>
<line x1="334.80" y1="1101.96" x2="665.80" y2="1101.96" stroke="#D6E2F2" stroke-width="1"/>
<text x="326.50" y="1104.96" font-size="8.6" fill="#44546A" text-anchor="end">90.0</text>
<line x1="334.80" y1="1085.80" x2="665.80" y2="1085.80" stroke="#D6E2F2" stroke-width="1"/>
<text x="326.50" y="1088.80" font-size="8.6" fill="#44546A" text-anchor="end">100.0</text>
<text x="362.38" y="1261.90" font-size="8.6" fill="#44546A" text-anchor="middle">&gt; 90</text>
<rect x="340.98" y="1244.49" width="12.60" height="2.51" fill="url(#bb)"/>
<text x="347.28" y="1238.09" font-size="9.0" fill="#3E4D61" text-anchor="middle" stroke="#3E4D61" stroke-width="0.15">1.8</text>
<rect x="356.28" y="1246.59" width="12.60" height="0.41" fill="url(#bo)"/>
<text x="362.58" y="1240.19" font-size="9.0" fill="#3E4D61" text-anchor="middle" stroke="#3E4D61" stroke-width="0.15">0.5</text>
<rect x="371.58" y="1247.24" width="12.60" height="-0.24" fill="url(#bg)"/>
<text x="377.88" y="1240.84" font-size="9.0" fill="#3E4D61" text-anchor="middle" stroke="#3E4D61" stroke-width="0.15">0.1</text>
<text x="417.55" y="1261.90" font-size="8.6" fill="#44546A" text-anchor="middle">60-89</text>
<rect x="396.15" y="1220.57" width="12.60" height="26.43" fill="url(#bb)"/>
<text x="402.45" y="1214.17" font-size="9.0" fill="#3E4D61" text-anchor="middle" stroke="#3E4D61" stroke-width="0.15">16.6</text>
<rect x="411.45" y="1238.03" width="12.60" height="8.97" fill="url(#bo)"/>
<text x="417.75" y="1231.63" font-size="9.0" fill="#3E4D61" text-anchor="middle" stroke="#3E4D61" stroke-width="0.15">5.8</text>
<rect x="426.75" y="1245.46" width="12.60" height="1.54" fill="url(#bg)"/>
<text x="433.05" y="1239.06" font-size="9.0" fill="#3E4D61" text-anchor="middle" stroke="#3E4D61" stroke-width="0.15">1.2</text>
<text x="472.72" y="1261.90" font-size="8.6" fill="#44546A" text-anchor="middle">30-59</text>
<rect x="451.32" y="1192.46" width="12.60" height="54.54" fill="url(#bb)"/>
<text x="457.62" y="1186.06" font-size="9.0" fill="#3E4D61" text-anchor="middle" stroke="#3E4D61" stroke-width="0.15">34.0</text>
<rect x="466.62" y="1223.32" width="12.60" height="23.68" fill="url(#bo)"/>
<text x="472.92" y="1216.92" font-size="9.0" fill="#3E4D61" text-anchor="middle" stroke="#3E4D61" stroke-width="0.15">14.9</text>
<rect x="481.92" y="1240.77" width="12.60" height="6.23" fill="url(#bg)"/>
<text x="488.22" y="1234.37" font-size="9.0" fill="#3E4D61" text-anchor="middle" stroke="#3E4D61" stroke-width="0.15">4.1</text>
<text x="527.88" y="1261.90" font-size="8.6" fill="#44546A" text-anchor="middle">15-29</text>
<rect x="506.48" y="1159.97" width="12.60" height="87.03" fill="url(#bb)"/>
<text x="512.78" y="1153.57" font-size="9.0" fill="#3E4D61" text-anchor="middle" stroke="#3E4D61" stroke-width="0.15">54.1</text>
<rect x="521.78" y="1201.02" width="12.60" height="45.98" fill="url(#bo)"/>
<text x="528.08" y="1194.62" font-size="9.0" fill="#3E4D61" text-anchor="middle" stroke="#3E4D61" stroke-width="0.15">28.7</text>
<rect x="537.08" y="1231.40" width="12.60" height="15.60" fill="url(#bg)"/>
<text x="543.38" y="1225.00" font-size="9.0" fill="#3E4D61" text-anchor="middle" stroke="#3E4D61" stroke-width="0.15">9.9</text>
<text x="583.05" y="1261.90" font-size="8.6" fill="#44546A" text-anchor="middle">&lt;15</text>
<rect x="561.65" y="1137.67" width="12.60" height="109.33" fill="url(#bb)"/>
<text x="567.95" y="1131.27" font-size="9.0" fill="#3E4D61" text-anchor="middle" stroke="#3E4D61" stroke-width="0.15">67.9</text>
<rect x="576.95" y="1178.72" width="12.60" height="68.28" fill="url(#bo)"/>
<text x="583.25" y="1172.32" font-size="9.0" fill="#3E4D61" text-anchor="middle" stroke="#3E4D61" stroke-width="0.15">42.5</text>
<rect x="592.25" y="1218.64" width="12.60" height="28.36" fill="url(#bg)"/>
<text x="598.55" y="1212.24" font-size="9.0" fill="#3E4D61" text-anchor="middle" stroke="#3E4D61" stroke-width="0.15">17.8</text>
<text x="638.22" y="1261.90" font-size="8.6" fill="#44546A" text-anchor="middle">Dialysis</text>
<rect x="616.82" y="1124.75" width="12.60" height="122.25" fill="url(#bb)"/>
<text x="623.12" y="1118.35" font-size="9.0" fill="#3E4D61" text-anchor="middle" stroke="#3E4D61" stroke-width="0.15">75.9</text>
<rect x="632.12" y="1163.04" width="12.60" height="83.96" fill="url(#bo)"/>
<text x="638.42" y="1156.64" font-size="9.0" fill="#3E4D61" text-anchor="middle" stroke="#3E4D61" stroke-width="0.15">52.2</text>
<rect x="647.42" y="1205.06" width="12.60" height="41.94" fill="url(#bg)"/>
<text x="653.72" y="1198.66" font-size="9.0" fill="#3E4D61" text-anchor="middle" stroke="#3E4D61" stroke-width="0.15">26.2</text>
<text x="472.50" y="1276.80" font-size="8.8" fill="#25405F" font-weight="bold" textLength="55.50" lengthAdjust="spacingAndGlyphs">GFR (mL/min)</text>
<text x="0" y="0" transform="translate(299.7,1167.70) rotate(-90)" font-size="8.8" font-weight="bold" fill="#25405F" text-anchor="middle" textLength="155.7" lengthAdjust="spacingAndGlyphs">Percentage of patients above cut-off</text>
<text x="0" y="0" transform="translate(276.4,966.30) rotate(-90)" font-size="12.6" font-weight="bold" fill="#000" text-anchor="middle" textLength="70.7" lengthAdjust="spacingAndGlyphs">2.5 mg b.i.d.</text>
<text x="0" y="0" transform="translate(276.4,1156.70) rotate(-90)" font-size="12.6" font-weight="bold" fill="#000" text-anchor="middle" textLength="61.0" lengthAdjust="spacingAndGlyphs">5 mg b.i.d.</text>
<text x="295.30" y="1299.70" font-size="10.8" fill="#111" font-weight="bold" textLength="187.40" lengthAdjust="spacingAndGlyphs">Number of days since discontinuation</text>
<rect x="507.20" y="1293.60" width="5.50" height="5.50" fill="#1F6391"/>
<text x="514.60" y="1299.10" font-size="10.6" fill="#34455C" textLength="28.10" lengthAdjust="spacingAndGlyphs" stroke="#34455C" stroke-width="0.25">2 days</text>
<rect x="552.40" y="1293.60" width="5.50" height="5.50" fill="#ED7D31"/>
<text x="560.40" y="1299.10" font-size="10.6" fill="#34455C" textLength="28.00" lengthAdjust="spacingAndGlyphs" stroke="#34455C" stroke-width="0.25">3 days</text>
<rect x="597.90" y="1293.60" width="5.50" height="5.50" fill="#2E7D32"/>
<text x="606.20" y="1299.10" font-size="10.6" fill="#34455C" textLength="28.00" lengthAdjust="spacingAndGlyphs" stroke="#34455C" stroke-width="0.25">5 days</text>
<rect x="36.05" y="961.95" width="190" height="179.3" rx="1.8" fill="#F79646" stroke="#B66D31" stroke-width="3.5"/>
<text x="130.8" y="984.4" font-size="15.7" fill="#fff" text-anchor="middle" textLength="90.6" lengthAdjust="spacingAndGlyphs" xml:space="preserve">The standard</text>
<text x="130.8" y="1005.2" font-size="15.7" fill="#fff" text-anchor="middle" textLength="156.7" lengthAdjust="spacingAndGlyphs" xml:space="preserve">discontinuation period</text>
<text x="130.8" y="1025.5" font-size="15.7" fill="#fff" text-anchor="middle" textLength="120.1" lengthAdjust="spacingAndGlyphs" xml:space="preserve">of 48 to <tspan font-weight="bold">72 hours</tspan></text>
<text x="130.8" y="1045.7" font-size="15.7" fill="#fff" text-anchor="middle" textLength="134.8" lengthAdjust="spacingAndGlyphs" xml:space="preserve"><tspan font-weight="bold">before surgery was</tspan></text>
<text x="130.8" y="1065.6" font-size="15.7" fill="#fff" text-anchor="middle" textLength="155.7" lengthAdjust="spacingAndGlyphs" xml:space="preserve"><tspan font-weight="bold">insufficient</tspan> to achieve</text>
<text x="130.8" y="1086.5" font-size="15.7" fill="#fff" text-anchor="middle" textLength="129.1" lengthAdjust="spacingAndGlyphs" xml:space="preserve">clinically negligible</text>
<text x="130.8" y="1107.4" font-size="15.7" fill="#fff" text-anchor="middle" textLength="119.5" lengthAdjust="spacingAndGlyphs" xml:space="preserve">concentrations in</text>
<text x="130.8" y="1128.2" font-size="15.7" fill="#fff" text-anchor="middle" textLength="161.8" lengthAdjust="spacingAndGlyphs" xml:space="preserve">haemodialysis patients.</text>
<rect x="0.00" y="1310.00" width="685.00" height="106.00" fill="#B1083A"/>
<rect x="0.00" y="1343.40" width="1.00" height="72.60" fill="#E6A6B8"/>
<text x="13.10" y="1331.60" font-size="15.7" fill="#fff" textLength="580.70" lengthAdjust="spacingAndGlyphs">AF: atrial fibrillation; ESKD: end stage kidney disease; GFR: glomerular filtration rate</text>
<rect x="12.2" y="1345.4" width="142.3" height="56.9" rx="7.5" fill="#fff" stroke="#F2A552" stroke-width="0.8"/>
<path fill="#E8892A" d="M23,1380 L36.2,1356.5 Q38,1354.3 40.3,1355.6 Q41.5,1356.6 40.6,1358 L29.3,1378.2 Q28.3,1379.9 26.5,1380 Z M43.5,1361 L56.3,1385 Q57.3,1387.6 55.3,1388.6 Q53.5,1389.2 52.6,1387.5 L40.9,1365 Q40.6,1363.6 41.6,1362.6 Z M21.5,1385.4 L47.1,1385.4 L49.3,1389.4 L21.5,1389.4 Q19.5,1389.4 19.5,1387.4 Q19.5,1385.4 21.5,1385.4 Z"/>
<text x="69.60" y="1389.00" font-size="40" fill="#1B4D78" font-family="&quot;Liberation Serif&quot;, &quot;Times New Roman&quot;, serif" textLength="71.20" lengthAdjust="spacingAndGlyphs" stroke="#1B4D78" stroke-width="0.9">Adis</text>
<text x="171.90" y="1358.40" font-size="15.7" fill="#fff" textLength="497.00" lengthAdjust="spacingAndGlyphs">This graphical abstract represents the opinions of the authors. For a full</text>
<text x="171.90" y="1378.70" font-size="15.7" fill="#fff" textLength="410.00" lengthAdjust="spacingAndGlyphs">list of declarations, including funding and author disclosure</text>
<text x="171.90" y="1399.50" font-size="15.7" fill="#fff" textLength="485.40" lengthAdjust="spacingAndGlyphs">statements, and copyright information, please see the full text online.</text>
</svg>
</body></html>
